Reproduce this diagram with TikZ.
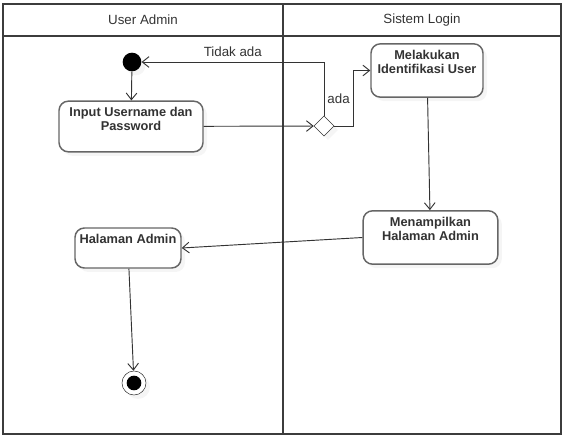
\documentclass[tikz,border=0pt]{standalone}
\usepackage{fontspec}
\setmainfont{Liberation Sans}
\usepackage{tikz}
\usetikzlibrary{arrows.meta, shapes.geometric, shadows}

\definecolor{laneline}{HTML}{3C3C3C}
\definecolor{boxline}{HTML}{666666}
\definecolor{flowline}{HTML}{333333}
\definecolor{txt}{HTML}{333333}

\begin{document}
\begin{tikzpicture}[x=0.75pt, y=-0.75pt,
  >={Straight Barb[length=5pt, width=8pt]},
  activity/.style ={draw=boxline, line width=1.1pt, rounded corners=7pt,
    fill=white, drop shadow={shadow xshift=3pt, shadow yshift=-3pt,
    opacity=0.08}},
  %
  toptext/.style ={anchor=north, inner sep=0pt, yshift=-5pt, align=center,
    text=txt, font=\bfseries\fontsize{9.6}{10.5}\selectfont},
  %
  decision/.style ={draw=flowline, diamond, fill=white, minimum size=15pt,
    inner sep=0pt, drop shadow={shadow xshift=3pt, shadow yshift=-3pt,
    opacity=0.08}},
  flow/.style ={->, draw=flowline, line width=.7pt},
  lane/.style ={draw=laneline, line width=1.3pt},
  simple/.style ={text=txt, font=\fontsize{10}{11}\selectfont} ]

  \useasboundingbox (0,0) rectangle (564,438);

  \begin{scope}
    % swimlanes
    \draw [lane] (3,4) rectangle (561,434);
    \draw [lane] (3,36) -- (561,36);
    \draw [lane] (283,4) -- (283,434);
    \node [simple] (userLane) at (143,20) {User Admin};
    \node [simple] (loginLane) at (422,20) {Sistem Login};
  \end{scope}

  \begin{scope}
    \node [circle, fill=black, minimum size=14pt, inner sep=0pt,
      drop shadow={shadow xshift=3pt, shadow yshift=-3pt, opacity=0.08}]
      (start) at (132,62) {};
    \node [activity, minimum width=108pt, minimum height=38pt,
      label={[toptext]north:{Input Username dan\\Password}}]
      (input) at (131,126.5) {};
    \node [decision] (check) at (324,126) {};
    \node [activity, minimum width=84pt, minimum height=40pt,
      label={[toptext]north:{Melakukan\\Identifikasi User}}]
      (ident) at (427,70.5) {};
    \node [activity, minimum width=101pt, minimum height=40pt,
      label={[toptext]north:{Menampilkan\\Halaman Admin}}]
      (show) at (430.5,237.5) {};
    \node [activity, minimum width=79.5pt, minimum height=30pt,
      label={[toptext]north:{Halaman Admin}}]
      (admin) at (128,248) {};
    \node [circle, draw=flowline, fill=white, minimum size=18pt, inner sep=0pt,
      drop shadow={shadow xshift=3pt, shadow yshift=-3pt, opacity=0.08}]
      (stop) at (134,383) {};
    \fill [black] (stop.center) circle (5.5pt);
  \end{scope}

  \begin{scope}
    \draw [flow] (start) -- (input);
    \draw [flow] (input) -- (check);
    \draw [flow] (check.north) |- node [simple, above, pos=0.75] {Tidak ada}
      (start);
    \draw [flow] (check.east) -- ++(19,0) |- node [simple, left, pos=0.25,
      xshift=1pt] {ada} (ident);
    \draw [flow] (ident) -- (show);
    \draw [flow] (show.west) -- (admin.east);
    \draw [flow] (admin) -- (stop);
  \end{scope}

\end{tikzpicture}
\end{document}
